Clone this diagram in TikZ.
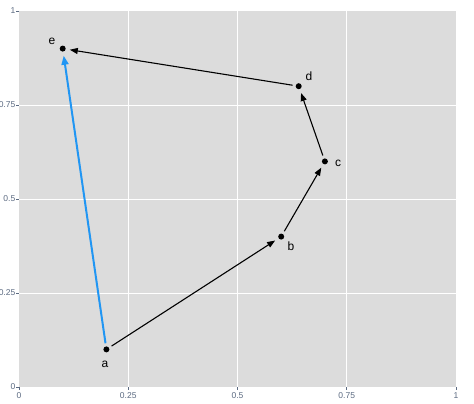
\documentclass[tikz,border=0pt]{standalone}
\usepackage{fontspec}
\setmainfont{Liberation Sans}
\usetikzlibrary{arrows.meta}
\definecolor{panel}{HTML}{DCDCDC}
\definecolor{ticktext}{HTML}{5C6B82}
\definecolor{bluearrow}{HTML}{2196F3}
\tikzset{
  dot/.style={circle,fill=black,inner sep=0pt,minimum size=6pt},
  ptlabel/.style={font=\fontsize{12}{12}\selectfont,text=black,inner sep=0pt},
  ticklab/.style={font=\fontsize{8.5}{8.5}\selectfont,text=ticktext,inner sep=0pt},
  grid/.style={white,line width=1pt},
  conn/.style={-{Triangle[length=8pt,width=6pt]},line width=1.1pt,black,shorten >=4pt,shorten <=3pt},
  blueconn/.style={conn,bluearrow,line width=2pt,-{Triangle[length=9pt,width=7pt]}},
  tickmark/.style={ticktext,line width=0.6pt}
}
\begin{document}
\begin{tikzpicture}[x=1pt,y=-1pt]
\useasboundingbox (0,0) rectangle (474,404);
\fill[white] (0,0) rectangle (474,404);
\fill[panel] (19,11) rectangle (456,387);
% grid
\foreach \gx in {128.25,237.5,346.75} \draw[grid] (\gx,11) -- (\gx,387);
\foreach \gy in {293,199,105} \draw[grid] (19,\gy) -- (456,\gy);
% ticks
\foreach \gx in {19,128.25,237.5,346.75,456} \draw[tickmark] (\gx,387) -- (\gx,390);
\foreach \gy in {387,293,199,105,11} \draw[tickmark] (16,\gy) -- (19,\gy);
% x labels
\node[ticklab,anchor=north] (x0) at (19,392) {0};
\node[ticklab,anchor=north] (x1) at (128.25,392) {0.25};
\node[ticklab,anchor=north] (x2) at (237.5,392) {0.5};
\node[ticklab,anchor=north] (x3) at (346.75,392) {0.75};
\node[ticklab,anchor=north] (x4) at (456,392) {1};
% y labels
\node[ticklab,anchor=east] (y0) at (15.5,387) {0};
\node[ticklab,anchor=east] (y1) at (15.5,293) {0.25};
\node[ticklab,anchor=east] (y2) at (15.5,199) {0.5};
\node[ticklab,anchor=east] (y3) at (15.5,105) {0.75};
\node[ticklab,anchor=east] (y4) at (15.5,11) {1};
% points
\node[dot] (a) at (106.4,349.4) {};
\node[dot] (b) at (281.2,236.6) {};
\node[dot] (c) at (324.9,161.4) {};
\node[dot] (d) at (298.7,86.2) {};
\node[dot] (e) at (62.7,48.6) {};
% labels
\node[ptlabel] (la) at (105,364) {a};
\node[ptlabel] (lb) at (291,246) {b};
\node[ptlabel] (lc) at (338,163) {c};
\node[ptlabel] (ld) at (309,76) {d};
\node[ptlabel] (le) at (52,41) {e};
% connectors
\draw[conn] (a) -- (b);
\draw[conn] (b) -- (c);
\draw[conn] (c) -- (d);
\draw[conn] (d) -- (e);
\draw[blueconn] (a) -- (e);
\end{tikzpicture}
\end{document}
